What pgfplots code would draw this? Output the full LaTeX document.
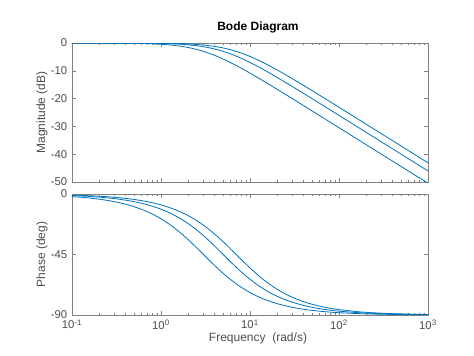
\documentclass[border=0pt]{standalone}
\usepackage{fontspec}
\setmainfont{Liberation Sans}
\usepackage{pgfplots}
\pgfplotsset{compat=1.18}
\usepackage{pgfplotstable}
\definecolor{mblue}{RGB}{0,114,189}
\definecolor{axgray}{RGB}{128,128,128}
\definecolor{lblgray}{RGB}{77,77,77}

% columns: w, magnitude (dB) and phase (deg) for the three systems
\pgfplotstableread{
w m3 p3 m5 p5 m7 p7
0.1 -0.00482 -1.909 -0.00174 -1.146 -0.000886 -0.8185
0.12589 -0.00764 -2.403 -0.00275 -1.442 -0.001405 -1.030
0.15849 -0.0121 -3.024 -0.00436 -1.816 -0.002226 -1.297
0.19953 -0.0192 -3.805 -0.00691 -2.285 -0.003528 -1.633
0.25119 -0.0303 -4.786 -0.01095 -2.876 -0.005589 -2.055
0.31623 -0.0480 -6.017 -0.01733 -3.619 -0.008855 -2.587
0.39811 -0.0758 -7.559 -0.02744 -4.552 -0.014023 -3.255
0.50119 -0.1196 -9.484 -0.04341 -5.724 -0.022205 -4.095
0.63096 -0.1887 -11.877 -0.06862 -7.192 -0.035139 -5.151
0.79433 -0.2943 -14.831 -0.10824 -9.027 -0.055575 -6.474
1 -0.4576 -18.435 -0.17033 -11.310 -0.087739 -8.130
1.2589 -0.7044 -22.76 -0.26696 -14.13 -0.13825 -10.195
1.5849 -1.0690 -27.85 -0.41584 -17.59 -0.21711 -12.757
1.9953 -1.5907 -33.63 -0.64200 -21.76 -0.33927 -15.91
2.5119 -2.3072 -39.94 -0.97739 -26.67 -0.52607 -19.74
3.1623 -3.2451 -46.51 -1.4613 -32.31 -0.80648 -24.31
3.9811 -4.4107 -53.00 -2.1324 -38.53 -1.21722 -29.63
5.0119 -5.7875 -59.09 -3.0207 -45.07 -1.79716 -35.60
6.3096 -7.3428 -64.57 -4.1370 -51.61 -2.58276 -42.03
7.9433 -9.0367 -69.31 -5.4701 -57.81 -3.59416 -48.62
10 -10.8318 -73.30 -6.9897 -63.43 -4.82991 -55.01
12.589 -12.697 -76.60 -8.6567 -68.34 -6.26799 -60.93
15.849 -14.610 -79.28 -10.4326 -72.49 -7.87198 -66.17
19.953 -16.555 -81.45 -12.2851 -75.93 -9.60218 -70.67
25.119 -18.519 -83.19 -14.1893 -78.74 -11.42278 -74.43
31.623 -20.497 -84.58 -16.1278 -81.01 -13.30580 -77.52
39.811 -22.482 -85.69 -18.0886 -82.84 -15.23034 -80.03
50.119 -24.473 -86.57 -20.0637 -84.30 -17.18201 -82.05
63.096 -26.468 -87.28 -22.048 -85.47 -19.15126 -83.67
79.433 -28.464 -87.84 -24.038 -86.40 -21.131 -84.96
100 -30.461 -88.28 -26.031 -87.14 -23.119 -86.00
177.83 -35.459 -89.03 -31.024 -88.39 -28.105 -87.75
316.23 -40.458 -89.46 -36.022 -89.09 -33.100 -88.73
562.34 -45.458 -89.69 -41.021 -89.49 -38.098 -89.29
1000 -50.458 -89.83 -46.021 -89.71 -43.098 -89.60
}\bode

\pgfplotsset{
  bl/.style={mblue, line width=0.6pt, smooth, mark=none},
  bodeax/.style={
    xmin=0.1, xmax=1000,
    scale only axis, width=267pt,
    axis line style={axgray, line width=0.5pt},
    every tick/.style={axgray, line width=0.4pt},
    major tick length=3pt, minor tick length=1.6pt,
    tick align=inside, xtick pos=both, ytick pos=both,
    tick label style={font=\fontsize{8.5}{10}\selectfont, text=lblgray},
    label style={font=\fontsize{9}{10.5}\selectfont, text=lblgray},
    /pgf/number format/assume math mode=true,
    xtick={0.1,1,10,100,1000},
    minor xtick={0.2,0.3,0.4,0.5,0.6,0.7,0.8,0.9,2,3,4,5,6,7,8,9,20,30,40,50,60,70,80,90,200,300,400,500,600,700,800,900},
    clip=true,
  }
}

\begin{document}
\begin{tikzpicture}
\useasboundingbox (0,0) rectangle (355.5pt,266.25pt);
\begin{semilogxaxis}[bodeax,
  at={(54pt,234pt)}, anchor=north west,
  height=104.25pt,
  ymin=-50, ymax=0,
  ytick={-50,-40,-30,-20,-10,0},
  yticklabels={-50,-40,-30,-20,-10,0},
  xticklabels={},
  ylabel={Magnitude (dB)},
  ylabel style={at={(axis description cs:-0.055,0.5)}},
  title={\textbf{Bode Diagram}},
  title style={font=\fontsize{9}{10.5}\selectfont, text=black, xshift=6pt, yshift=-2pt},
]
\addplot[bl] table[x=w,y=m3]{\bode};
\addplot[bl] table[x=w,y=m5]{\bode};
\addplot[bl] table[x=w,y=m7]{\bode};
\end{semilogxaxis}
\begin{semilogxaxis}[bodeax,
  at={(54pt,120.75pt)}, anchor=north west,
  height=90.75pt,
  ymin=-90, ymax=0,
  ytick={-90,-45,0},
  yticklabels={-90,-45,0},
  xticklabels={10\textsuperscript{-1},10\textsuperscript{0},10\textsuperscript{1},10\textsuperscript{2},10\textsuperscript{3}},
  ylabel={Phase (deg)},
  ylabel style={at={(axis description cs:-0.055,0.5)}},
  xlabel={Frequency~~(rad/s)},
  xlabel style={xshift=6pt, yshift=4pt},
]
\addplot[bl] table[x=w,y=p3]{\bode};
\addplot[bl] table[x=w,y=p5]{\bode};
\addplot[bl] table[x=w,y=p7]{\bode};
\end{semilogxaxis}
\end{tikzpicture}
\end{document}
